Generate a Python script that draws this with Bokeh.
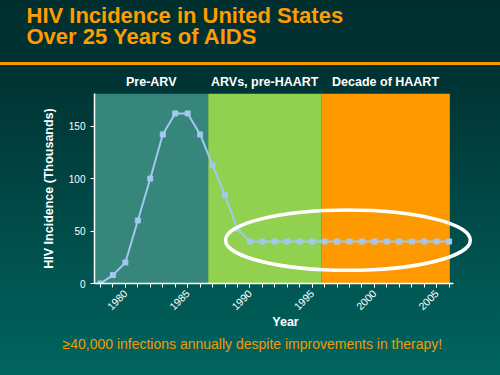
import math
from bokeh.plotting import figure
from bokeh.models import (Title, LinearAxis, ColumnDataSource, Range1d, SingleIntervalTicker,
                          FixedTicker, GlobalInlineStyleSheet)
from bokeh.embed import file_html
from bokeh.resources import INLINE

# ---------------- data ----------------
years = [1978, 1979, 1980, 1981, 1982, 1983, 1984, 1985, 1986, 1987, 1988, 1989,
         1990, 1991, 1992, 1993, 1994, 1995, 1996, 1997, 1998, 1999, 2000, 2001,
         2002, 2003, 2004, 2005, 2006]
incidence = [0, 8, 20, 60, 100, 142, 162, 162, 142, 113, 84, 52,
             40, 40, 40, 40, 40, 40, 40, 40, 40, 40, 40, 40,
             40, 40, 40, 40, 40]

era_names = ["Pre-ARV", "ARVs, pre-HAART", "Decade of HAART"]
era_start = [1977.5, 1986.65, 1995.73]
era_end = [1986.65, 1995.73, 2006.06]
era_colors = ["#37867B", "#92D050", "#FF9900"]

y_ticks = [0, 50, 100, 150]

# highlighted plateau (ellipse extent)
hl_years = [1988.05, 2007.7]
hl_values = [12.6, 70.0]

title_lines = ["HIV Incidence in United States", "Over 25 Years of AIDS"]
note_text = "\u226540,000 infections annually despite improvements in therapy!"

FONT = "Liberation Sans"
X0, X1 = 1977.518, 2008.2
Y0, Y1 = 0, 181
LINE_COLOR = "#A2C8F0"

p = figure(width=500, height=375, x_range=Range1d(X0, X1), y_range=Range1d(Y0, Y1),
           output_backend="svg", toolbar_location=None,
           min_border_left=94, min_border_right=24, min_border_top=93, min_border_bottom=92)
p.background_fill_alpha = 0
p.border_fill_alpha = 0
p.outline_line_color = None
p.xgrid.visible = False
p.ygrid.visible = False

css = """
html {
  background-color: #006560;
  background-image:
    linear-gradient(to bottom, rgba(0,0,0,0) 62px, #F29A00 62px, #F29A00 65px, rgba(0,0,0,0) 65px),
    linear-gradient(to bottom, #002f30 0px, #003232 70px, #006560 375px);
  background-repeat: no-repeat;
  background-size: 100% 375px;
}
body { background: transparent; }
"""
p.stylesheets = [GlobalInlineStyleSheet(css=css)]

# era backgrounds
era_mid = [(a + b) / 2 for a, b in zip(era_start, era_end)]
era_src = ColumnDataSource(dict(left=era_start, right=era_end, color=era_colors))
p.quad(left="left", right="right", bottom=Y0, top=Y1, fill_color="color", line_color=None, source=era_src)

# series
p.line(years, incidence, line_color=LINE_COLOR, line_width=2)
p.scatter(years, incidence, marker="square", size=5, fill_color=LINE_COLOR, line_color=LINE_COLOR)

# highlight ellipse
p.ellipse(x=[(hl_years[0] + hl_years[1]) / 2], y=[(hl_values[0] + hl_values[1]) / 2],
          width=[hl_years[1] - hl_years[0]], height=[hl_values[1] - hl_values[0]],
          fill_alpha=0, line_color="white", line_width=3.5)

# axes
xa = p.xaxis[0]
xa.ticker = SingleIntervalTicker(interval=5, num_minor_ticks=5)
xa.bounds = (X0, 2006.35)
ya = p.yaxis[0]
ya.ticker = FixedTicker(ticks=y_ticks)
for ax in (xa, ya):
    ax.axis_line_color = "white"
    ax.axis_line_width = 1.5
    ax.major_tick_line_color = "white"
    ax.minor_tick_line_color = "white"
    ax.major_tick_in = 0
    ax.major_tick_out = 4
    ax.minor_tick_in = 0
    ax.minor_tick_out = 4
    ax.major_label_text_color = "white"
    ax.major_label_text_font = FONT
    ax.axis_label_text_color = "white"
    ax.axis_label_text_font = FONT
    ax.axis_label_text_font_style = "bold"
    ax.axis_label_text_font_size = "12.5px"
ya.minor_tick_out = 0
xa.major_label_orientation = math.pi / 4
xa.major_label_text_font_size = "10.5px"
ya.major_label_text_font_size = "10px"
xa.major_label_standoff = 4
ya.major_label_standoff = 5
xa.axis_label = "Year"
ya.axis_label = "HIV Incidence (Thousands)"
xa.axis_label_standoff = -2
ya.axis_label_standoff = 10

# era labels as a label-only axis above the frame (blank axis label acts as spacing)
era_axis = LinearAxis(ticker=FixedTicker(ticks=era_mid),
                      major_label_overrides={m: n for m, n in zip(era_mid, era_names)},
                      axis_line_color=None, major_tick_line_color=None, minor_tick_line_color=None,
                      major_tick_in=0, major_tick_out=0, minor_tick_in=0, minor_tick_out=0,
                      major_label_standoff=5, major_label_text_color="white",
                      major_label_text_font=FONT, major_label_text_font_style="bold",
                      major_label_text_font_size="12.5px",
                      axis_label=" ", axis_label_standoff=5, axis_label_text_font_size="12.5px")
p.add_layout(era_axis, "above")

# two-line title
p.add_layout(Title(text="\n".join(title_lines), align="left", offset=-68, standoff=0,
                   vertical_align="bottom", text_line_height=0.854,
                   text_font=FONT, text_font_style="bold", text_font_size="22px",
                   text_color="#FF9C00"), "above")

# bottom note
p.add_layout(Title(text=note_text, align="left", offset=-32, standoff=4,
                   text_font=FONT, text_font_style="normal", text_font_size="14px",
                   text_color="#F29A00"), "below")

open("out.html", "w").write(file_html(p, INLINE))
